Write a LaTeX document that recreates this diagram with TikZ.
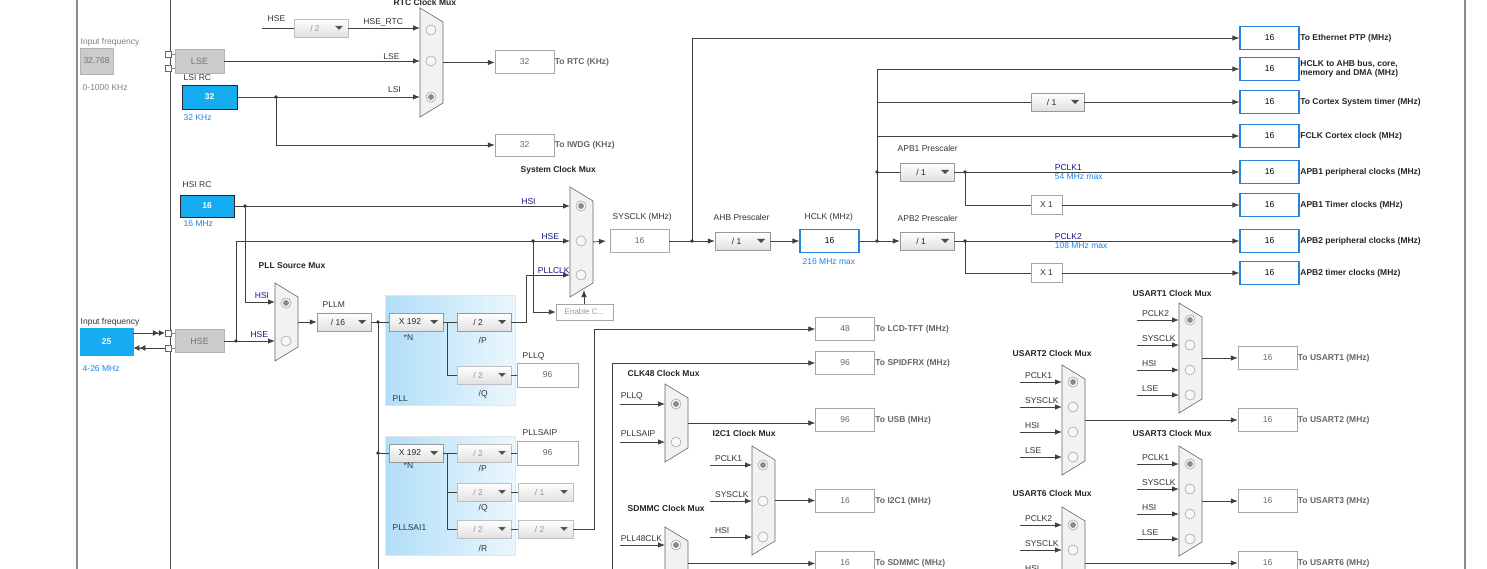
\documentclass[tikz,border=0pt]{standalone}
\usepackage{fontspec}
\setmainfont{Liberation Sans}
\usetikzlibrary{arrows.meta}
\definecolor{cubeblue}{RGB}{22,172,242}
\definecolor{outblue}{RGB}{40,130,220}
\definecolor{navy}{RGB}{20,20,130}
\definecolor{maxblue}{RGB}{30,130,230}
\definecolor{pllblue}{RGB}{176,222,248}
\newcommand\fs[1]{\fontsize{#1}{#1}\selectfont}
\tikzset{
  wire/.style={draw=black!75, line width=0.8pt},
  arr/.style={wire, -{Latex[length=7pt,width=5.5pt]}},
  val/.style={draw=black!35, fill=white, minimum width=59pt, minimum height=23pt, inner sep=0pt, font=\fs{8.5}, text=black!60},
  outbox/.style={val, draw=outblue, line width=1.3pt, text=black},
  src/.style={val, fill=cubeblue, draw=black!85, line width=0.9pt, text=white, font=\fs{8.5}\bfseries},
  gry/.style={val, fill=black!20, draw=black!30, text=black!55},
  pin/.style={draw=black!60, fill=white, minimum size=6pt, inner sep=0pt},
  sel/.style={draw=black!40, top color=white, bottom color=black!12, minimum height=18pt, inner sep=0pt, font=\fs{8.5}, text=black!85},
  dis/.style={text=black!40, draw=black!25},
  lbl/.style={font=\fs{8.5}, text=black!80, inner sep=0.5pt, anchor=west},
  glbl/.style={lbl, text=black!50},
  blbl/.style={lbl, text=navy},
  mlbl/.style={lbl, text=maxblue},
  title/.style={lbl, font=\fs{8.5}\bfseries, text=black!85},
  tolbl/.style={lbl, font=\fs{8.5}\bfseries, text=black!60},
  rlbl/.style={lbl, font=\fontsize{8.5}{9.5}\selectfont\bfseries, text=black!85, align=left},
  mux/.style={draw=black!60, fill=black!5, line width=0.6pt},
  radio/.style={draw=black!35, fill=black!3, line width=0.6pt},
  pll/.style={draw=black!10, left color=pllblue, right color=pllblue!25!white}
}
\newcommand\selbox[6][]{%
  \node[sel, #1, minimum width=#5pt] (#2) at (#3,#4) {\hspace*{-12pt}#6};
  \fill[black!70, #1] ([xshift=-13pt,yshift=2pt]#2.east) -- ++(8,0) -- ++(-4,4) -- cycle;}
\newcommand\clkmux[4]{%
  \draw[mux] (#2,#3) -- (#2+23,#3+14) -- (#2+23,#4-14) -- (#2,#4) -- cycle;
  \coordinate (#1) at (#2+23,{(#3+#4)/2});}
\newcommand\radios[3]{%
  \foreach \ry [count=\ri] in {#2} {\draw[radio] (#1+11,\ry) circle (5);}
  \draw[draw=black!50, fill=black!45] (#1+11,#3) circle (2.6);}
\begin{document}
\begin{tikzpicture}[x=1pt,y=-1pt]
\useasboundingbox (0,0) rectangle (1487,569);
\begin{scope}
\clip (0,0) rectangle (1487,569);

% frame
\draw[black!45, line width=2.5pt] (77,0) -- (77,569);
\draw[black!45, line width=2.5pt] (1465,0) -- (1465,569);
\draw[black!70] (170,0) -- (170,569);

% LSE / LSI
\node[glbl] at (80,42) {Input frequency};
\node[gry, minimum width=33pt, minimum height=26pt] (lsefreq) at (96.5,61) {32.768};
\node[glbl] at (82,88) {0-1000 KHz};
\node[pin] (lsep1) at (168,54) {};
\node[pin] (lsep2) at (168,68) {};
\node[gry, minimum width=49pt, minimum height=24pt, font=\fs{9}] (lse) at (199.5,61) {LSE};
\draw[black!50] (lsep1) -- (lse.west |- lsep1) (lsep2) -- (lse.west |- lsep2);
\node[lbl] at (183,78) {LSI RC};
\node[src, minimum width=55pt, minimum height=24pt] (lsi) at (209.5,97) {32};
\node[mlbl] at (183,118) {32 KHz};

% RTC clock mux
\node[title] at (393,2) {RTC Clock Mux};
\clkmux{rtcmux}{420}{8}{117}
\radios{420}{30,61,97}{97}
\node[lbl] at (267,19) {HSE};
\selbox[dis]{hsediv}{321}{28}{54}{/ 2}
\draw[wire] (262,28) -- (hsediv.west);
\draw[arr] (hsediv.east) -- (420,28) node[lbl, pos=0.2, above=1pt, anchor=south west] {HSE\_RTC};
\draw[arr] (lse.east) -- (420,61) node[lbl, pos=0.9, above=1pt, anchor=south east] {LSE};
\draw[arr] (lsi.east) -- (420,97) node[lbl, pos=0.9, above=4pt, anchor=south east] {LSI};
\node[val] (rtc) at (524.5,62) {32};
\node[tolbl] at (rtc.east) {To RTC (KHz)};
\draw[arr] (rtcmux) -- (rtc.west |- rtcmux);
\node[val, minimum height=22pt] (iwdg) at (524.5,145) {32};
\node[tolbl] at (iwdg.east) {To IWDG (KHz)};
\fill[black!80] (276,97) circle (1.8);
\draw[arr] (276,97) -- (276,145) -- (iwdg.west);

% HSI / HSE
\node[lbl] at (182,185) {HSI RC};
\node[src, minimum width=54pt, minimum height=22pt] (hsi) at (207,206) {16};
\node[mlbl] at (183,224) {16 MHz};
\node[lbl] at (80,322) {Input frequency};
\node[src, draw=cubeblue, minimum width=53pt, minimum height=27pt] (hsefreq) at (106.5,341.5) {25};
\node[mlbl] at (82,369) {4-26 MHz};
\node[pin] (hsep1) at (168,333) {};
\node[pin] (hsep2) at (168,348) {};
\node[gry, minimum width=49pt, minimum height=23pt, font=\fs{9}] (hse) at (199.5,341) {HSE};
\draw[wire, -{Latex[length=6pt,width=6pt]Latex[length=6pt,width=6pt]}] (hsefreq.east |- hsep1) -- (hsep1.west);
\draw[wire, -{Latex[length=6pt,width=6pt]Latex[length=6pt,width=6pt]}] (hsep2.west) -- (hsefreq.east |- hsep2);
\draw[black!50] (hsep1) -- (hse.west |- hsep1) (hsep2) -- (hse.west |- hsep2);

% system clock mux
\node[title] at (520,170) {System Clock Mux};
\clkmux{sysmux}{570}{187}{297}
\radios{570}{206,241,275}{206}
\draw[arr] (hsi.east) -- (570,206) node[blbl, pos=0.9, above=1pt, anchor=south east] {HSI};
\fill[black!80] (245,206) circle (1.8);
\fill[black!80] (236,341) circle (1.8);
\draw[arr] (hse.east) -- (275,341) node[blbl, pos=0.5, above=3pt, anchor=south west] {HSE};
\draw[arr] (236,341) -- (236,241) -- (570,241) node[blbl, pos=0.97, above=1pt, anchor=south east] {HSE};
\draw[arr] (245,206) -- (245,302) -- (275,302) node[blbl, pos=0.3, above=3pt, anchor=south west] {HSI};
\fill[black!80] (533,241) circle (1.8);
\node[val, minimum width=57pt, minimum height=16pt, text=black!40, font=\fs{8}] (en) at (584.5,312) {Enable C...};
\draw[arr] (533,241) -- (533,312) -- (en.west);
\draw[arr] (en.north -| 584,0) -- (584,290);

% PLL source mux
\node[title] at (258,266) {PLL Source Mux};
\clkmux{pllmux}{275}{283}{361}
\radios{275}{303,341}{303}
\node[lbl] at (322,305) {PLLM};
\selbox{pllm}{344}{322}{54}{/ 16}
\draw[arr] (pllmux) -- (pllm.west);

% PLL
\fill[pll] (385,295) rectangle (515,405);
\node[lbl] at (392,399) {PLL};
\selbox{plln}{416}{322}{54}{X 192}
\selbox{pllp}{484}{322}{54}{/ 2}
\selbox[dis]{pllq}{484}{375}{54}{/ 2}
\node[lbl] at (403,338) {*N};
\node[lbl] at (478,340) {/P};
\node[lbl] at (478,394) {/Q};
\draw[wire] (pllm.east) -- (plln.west);
\draw[wire] (plln.east) -- (pllp.west);
\draw[wire] (447,322) -- (447,375) -- (pllq.west);
\node[val, minimum width=61pt, minimum height=24pt] (pllqv) at (547.5,375) {96};
\node[lbl] at (522,356) {PLLQ};
\draw[wire] (pllq.east) -- (pllqv.west);
\draw[arr] (pllp.east) -- (526,322) -- (526,275) -- (570,275) node[blbl, pos=0.25, above=1pt, anchor=south west] {PLLCLK};

% PLLSAI1
\fill[pll] (385,436) rectangle (515,555);
\node[lbl] at (392,528) {PLLSAI1};
\fill[black!80] (378,322) circle (1.8);
\fill[black!80] (378,453) circle (1.8);
\draw[wire] (378,322) -- (378,569);
\selbox{sain}{416}{453}{54}{X 192}
\selbox[dis]{saip}{484}{453}{54}{/ 2}
\selbox[dis]{saiq}{484}{492}{54}{/ 2}
\selbox[dis]{sair}{484}{529}{54}{/ 2}
\selbox[dis]{saiqd}{545.5}{492}{55}{/ 1}
\selbox[dis]{saird}{545.5}{529}{55}{/ 2}
\node[lbl] at (403,466) {*N};
\node[lbl] at (478,468) {/P};
\node[lbl] at (478,508) {/Q};
\node[lbl] at (478,548) {/R};
\draw[wire] (378,453) -- (sain.west);
\draw[wire] (sain.east) -- (saip.west);
\draw[wire] (447,453) -- (447,529) -- (sair.west) (447,492) -- (saiq.west);
\node[val, minimum width=61pt, minimum height=24pt] (saipv) at (547.5,453) {96};
\node[lbl] at (522,433) {PLLSAIP};
\draw[wire] (saip.east) -- (saipv.west);
\draw[wire] (saiq.east) -- (saiqd.west);
\draw[wire] (sair.east) -- (saird.west);

% LCD / SPIDFRX
\node[val] (lcd) at (845,329) {48};
\node[tolbl] at (lcd.east) {To LCD-TFT (MHz)};
\draw[arr] (saird.east) -- (594,529) -- (594,329) -- (lcd.west);
\node[val] (spdif) at (845,363) {96};
\node[tolbl] at (spdif.east) {To SPIDFRX (MHz)};
\draw[arr] (612,569) -- (612,363) -- (spdif.west);

% CLK48 mux
\node[title] at (627,373) {CLK48 Clock Mux};
\clkmux{clkmux}{665}{384}{462}
\radios{665}{404,442}{404}
\draw[arr] (620,404) -- (665,404) node[lbl, pos=0, above=3pt, anchor=south west] {PLLQ};
\draw[arr] (620,442) -- (665,442) node[lbl, pos=0, above=5pt, anchor=south west] {PLLSAIP};
\node[val] (usb) at (845,420) {96};
\node[tolbl] at (usb.east) {To USB (MHz)};
\draw[arr] (clkmux) -- (usb.west |- clkmux);

% I2C1 mux
\node[title] at (712,433) {I2C1 Clock Mux};
\clkmux{icmux}{752}{446}{555}
\radios{752}{465,501,537}{465}
\foreach \yy/\nn in {465/PCLK1,501/SYSCLK,537/HSI}
  \draw[arr] (710,\yy) -- (752,\yy) node[lbl, pos=0.1, above=3pt, anchor=south west] {\nn};
\node[val] (ic) at (845,501) {16};
\node[tolbl] at (ic.east) {To I2C1 (MHz)};
\draw[arr] (icmux) -- (ic.west |- icmux);

% SDMMC mux
\node[title] at (627,508) {SDMMC Clock Mux};
\clkmux{sdmux}{665}{527}{600}
\radios{665}{545,583}{545}
\foreach \yy/\nn in {545/PLL48CLK,583/SYSCLK}
  \draw[arr] (620,\yy) -- (665,\yy) node[lbl, pos=0, above=3pt, anchor=south west] {\nn};
\node[val] (sd) at (845,563) {16};
\node[tolbl] at (sd.east) {To SDMMC (MHz)};
\draw[arr] (sdmux) -- (sd.west |- sdmux);

% SYSCLK / AHB / APB
\draw[arr] (sysmux) -- (606,241);
\node[val] (sysclk) at (639.5,241) {16};
\node[lbl] at (612,217) {SYSCLK (MHz)};
\node[lbl] at (713,217) {AHB Prescaler};
\selbox{ahb}{742.5}{241}{55}{/ 1}
\draw[arr] (sysclk.east) -- (ahb.west);
\node[outbox] (hclk) at (829.5,241) {16};
\node[lbl] at (804,217) {HCLK (MHz)};
\node[mlbl] at (802,262) {216 MHz max};
\draw[arr] (ahb.east) -- (hclk.west);
\node[lbl] at (897,148) {APB1 Prescaler};
\selbox{apbone}{927}{172}{54}{/ 1}
\node[lbl] at (897,218) {APB2 Prescaler};
\selbox{apbtwo}{927}{241}{54}{/ 1}
\selbox{cortex}{1057.5}{102}{53}{/ 1}
\node[val, minimum width=31pt, minimum height=19pt, text=black!80] (timone) at (1046.5,205) {X 1};
\node[val, minimum width=31pt, minimum height=19pt, text=black!80] (timtwo) at (1046.5,273) {X 1};
\draw[arr] (hclk.east) -- (apbtwo.west);

% outputs
\foreach \yy/\nm/\txt in {38/eth/To Ethernet PTP (MHz), 69/ahbo/{HCLK to AHB bus, core,\\memory and DMA (MHz)},
    102/cort/To Cortex System timer (MHz), 136/fclk/FCLK Cortex clock (MHz),
    172/pone/APB1 peripheral clocks (MHz), 205/tone/APB1 Timer clocks (MHz),
    241/ptwo/APB2 peripheral clocks (MHz), 273/ttwo/APB2 timer clocks (MHz)} {
  \node[outbox] (\nm) at (1269.5,\yy) {16};
  \node[rlbl] at (\nm.east) {\txt};
}
\foreach \p in {(692,241),(877,241),(877,172),(965,172),(965,241)} \fill[black!80] \p circle (1.8);
\draw[arr] (692,241) -- (692,38) -- (eth.west);
\draw[arr] (877,241) -- (877,69) -- (ahbo.west);
\draw[wire] (877,102) -- (cortex.west);
\draw[arr] (cortex.east) -- (cort.west);
\draw[arr] (877,136) -- (fclk.west);
\draw[wire] (877,172) -- (apbone.west);
\draw[arr] (apbone.east) -- (pone.west) node[blbl, pos=0.35, above=1pt, anchor=south west] {PCLK1}
  node[mlbl, pos=0.35, below=1pt, anchor=north west] {54 MHz max};
\draw[wire] (965,172) -- (965,205) -- (timone.west);
\draw[arr] (timone.east) -- (tone.west);
\draw[arr] (apbtwo.east) -- (ptwo.west) node[blbl, pos=0.35, above=1pt, anchor=south west] {PCLK2}
  node[mlbl, pos=0.35, below=1pt, anchor=north west] {108 MHz max};
\draw[wire] (965,241) -- (965,273) -- (timtwo.west);
\draw[arr] (timtwo.east) -- (ttwo.west);

% USART muxes
\node[title] at (1132,293) {USART1 Clock Mux};
\clkmux{uonemux}{1179}{303}{413}
\radios{1179}{320,345,370,395}{320}
\foreach \yy/\nn in {320/PCLK2,345/SYSCLK,370/HSI,395/LSE}
  \draw[arr] (1137,\yy) -- (1179,\yy) node[lbl, pos=0.1, above=3pt, anchor=south west] {\nn};
\node[val] (uone) at (1267.5,358) {16};
\node[tolbl] at (uone.east) {To USART1 (MHz)};
\draw[arr] (uonemux) -- (uone.west);

\node[title] at (1012,353) {USART2 Clock Mux};
\clkmux{utwomux}{1062}{365}{475}
\radios{1062}{382,407,432,457}{382}
\foreach \yy/\nn in {382/PCLK1,407/SYSCLK,432/HSI,457/LSE}
  \draw[arr] (1020,\yy) -- (1062,\yy) node[lbl, pos=0.1, above=3pt, anchor=south west] {\nn};
\node[val] (utwo) at (1267.5,420) {16};
\node[tolbl] at (utwo.east) {To USART2 (MHz)};
\draw[arr] (utwomux) -- (utwo.west);

\node[title] at (1132,433) {USART3 Clock Mux};
\clkmux{uthrmux}{1179}{446}{556}
\radios{1179}{464,489,514,539}{464}
\foreach \yy/\nn in {464/PCLK1,489/SYSCLK,514/HSI,539/LSE}
  \draw[arr] (1137,\yy) -- (1179,\yy) node[lbl, pos=0.1, above=3pt, anchor=south west] {\nn};
\node[val] (uthr) at (1267.5,501) {16};
\node[tolbl] at (uthr.east) {To USART3 (MHz)};
\draw[arr] (uthrmux) -- (uthr.west);

\node[title] at (1012,493) {USART6 Clock Mux};
\clkmux{usixmux}{1062}{507}{619}
\radios{1062}{525,550,575}{525}
\foreach \yy/\nn in {525/PCLK2,550/SYSCLK,575/HSI}
  \draw[arr] (1020,\yy) -- (1062,\yy) node[lbl, pos=0.1, above=3pt, anchor=south west] {\nn};
\node[val] (usix) at (1267.5,563) {16};
\node[tolbl] at (usix.east) {To USART6 (MHz)};
\draw[arr] (usixmux) -- (usix.west);
\end{scope}
\end{tikzpicture}
\end{document}
